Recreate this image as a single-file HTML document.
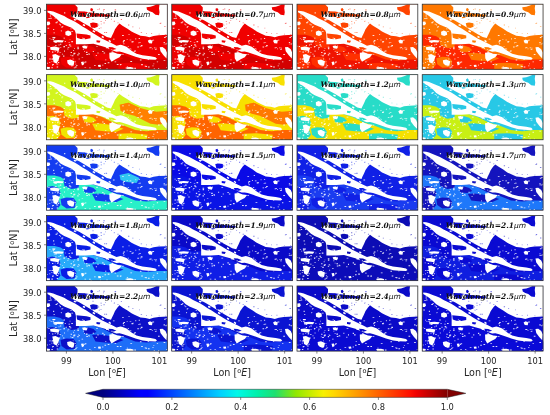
<!DOCTYPE html>
<html><head><meta charset="utf-8"><style>
html,body{margin:0;padding:0;background:#fff;}
svg{display:block;}
.wl{font-family:"DejaVu Serif",serif;font-weight:bold;font-style:italic;font-size:7.5px;fill:#111;}
.mu{font-family:"DejaVu Sans",sans-serif;font-weight:normal;font-style:italic;}
.tk{font-family:"DejaVu Sans",sans-serif;font-size:8.3px;fill:#262626;}
.al{font-family:"DejaVu Sans",sans-serif;font-size:9.6px;fill:#262626;}
.sup{font-size:6.5px;}
</style></head>
<body><svg width="550" height="415" viewBox="0 0 550 415">
<defs><g id="mask"><path fill-rule="evenodd" fill="#fff" d="M28,0 L121,0 L121,30.6 L112,31 L107,31.7 L103,33 L99,32 L94,31.5 L88.5,29 L85,27.3 L81,24.5 L76,21.5 L73,19.3 L71,21.5 L68.5,25 L67,28.5 L65.5,31.5 L64.5,33.8 L60.4,32.8 L55.9,30.2 L51.3,27.6 L47.8,25.8 L46,24.2 L42.2,21.9 L37.7,19.2 L33.1,16.5 L28.6,14.2 L24,11.9 L26,10.5 L30,9.5 L31,6 L31,3 Z M100,3 L104,2.5 L107,1.5 L110,0.3 L113,0.3 L112.5,4 L113,8 L112.5,11 L109,10.5 L106,8 L103,7 L100.5,5.5 Z M39.6,9 L42,8 L43.8,10 L43,13.5 L40,14 L39.4,12 Z M43.8,4.5 L45.5,3.7 L46.7,5.5 L45.5,7.3 L44,6.5 Z M31.5,7 L38,7.3 L44,8.3 L50,9.3 L58,10 L64,10.5 L63,12.5 L55,12.2 L48,12.4 L41,12.7 L36,12.5 L32,11 Z M43.5,19 L47,18.3 L51,19 L51.3,22.5 L48,23.7 L44.5,23 Z"/><path fill-rule="evenodd" fill="#fff" d="M1,6.5 L3.9,6.7 L6.8,7.4 L10.4,8.9 L14,10.3 L17.7,11.8 L21.3,14 L25,15.8 L28.6,17.6 L32.2,19.8 L35.9,22.3 L39.5,24.3 L44.4,27.6 L50,31 L55.3,34.2 L60,36.5 L66.2,39.6 L70,41.5 L74,40.5 L76,41 L80,42.5 L85,46.5 L90,49.5 L96,51 L104,52 L109,53 L110.5,54.5 L109,55.5 L102,55.2 L96,54.6 L89,52.5 L82,50 L76,48 L73,47.3 L69.9,47.5 L64.5,45.5 L58.4,42.8 L53,41.2 L47,39.5 L39,40 L29.4,40 L29.4,30 L28.6,26.5 L25,23.6 L21.3,22 L17.7,20.5 L14,18.3 L10.4,14.7 L6.8,11.8 L3.9,9.8 L1,8 Z M30,29.3 L35,29.8 L40,30.3 L44,31.3 L44,34 L39,35 L34,34.8 L30.5,33.5 Z M50,36 L54,36.5 L53,38.5 L50,38 Z M62,42.8 L66,43 L70,44.8 L66,45.8 L63,45 Z"/><path fill="#fff" d="M18.8,27.5 L21.5,26.3 L24.5,27.5 L24.9,30.5 L22,31.8 L19,30.8 Z M0,17.5 L3,17.3 L3.8,19.5 L2.5,21 L0,21 Z M101.3,36.5 L103.5,35.2 L106,36.5 L105.5,39.2 L102.5,39 Z M113.2,43 L116,42.7 L119,45 L120.5,48.5 L120,54.2 L117,51 L114,47 Z M62.8,48.5 L67,48 L71,49.5 L75.4,50 L73,53 L69,55 L65,57.6 L63,54 Z M5.8,33 L9,32.9 L8.5,34.2 L6,34.1 Z M6.8,36.3 L12,35.8 L17.4,36.3 L16,38.2 L10,38 L7,37.8 Z M3.6,43 L8,42.4 L13.2,43.5 L12,46.7 L7,46 L4,45.5 Z M5.8,50.5 L9,49.9 L13.2,52 L12,56 L10,59.4 L7,58 L6.5,54 Z M20.6,56 L24,55.2 L28,57 L27,61.5 L23,61 L21,59 Z M0,62.6 L3.6,63 L3,65 L0,65 Z M80,63 L84,62.8 L87,63.5 L87,65 L80,65 Z M34.5,57.8 L37,57.4 L37.6,60 L35.5,61.3 Z M51.4,60.8 L54,60.5 L54.5,62.5 L52,62.8 Z M14.3,26 L15.5,26.5 L14.5,27.5 Z M35.6,41.8 L38.5,41.3 L41.1,42.5 L40,44.6 L36.5,44 Z M27.5,14.6 L29.5,15.2 L29.2,16.6 L27.2,16 Z M36.5,19.8 L38.8,20.6 L38.4,22 L36.2,21.2 Z M46.5,25.8 L48.8,27 L48.3,28.4 L46,27.2 Z M55.5,31.5 L57.5,32.6 L57,34 L55,33 Z M62.5,35.6 L64.5,36.8 L64,38.2 L62,37 Z"/><path fill="#fff" opacity="0.85" d="M22.0,37.8h1.5v0.6h-1.5z M36.4,44.7h0.9v0.9h-0.9z M2.5,46.9h0.9v0.7h-0.9z M28.9,59.5h0.9v0.7h-0.9z M42.7,63.3h1.4v0.8h-1.4z M66.4,34.5h1.7v0.8h-1.7z M9.8,36.8h1.1v1.1h-1.1z M12.3,51.6h1.4v0.8h-1.4z M37.2,35.0h0.9v0.7h-0.9z M46.3,46.7h1.1v1.0h-1.1z M30.8,42.6h1.6v1.0h-1.6z M16.6,51.4h1.3v1.1h-1.3z M49.6,42.2h1.8v0.7h-1.8z M28.4,57.2h1.0v0.9h-1.0z M2.7,54.4h1.6v0.9h-1.6z M59.5,43.0h1.5v1.0h-1.5z M39.4,47.6h1.6v1.2h-1.6z M32.2,54.3h0.9v1.0h-0.9z M44.0,64.8h1.6v0.8h-1.6z M26.2,54.4h0.8v0.9h-0.8z M11.4,36.7h0.9v1.1h-0.9z M8.8,40.9h1.2v1.1h-1.2z M5.5,47.4h1.3v1.1h-1.3z M55.7,60.6h1.1v0.8h-1.1z M24.4,61.3h1.8v0.7h-1.8z M12.0,40.4h1.0v0.9h-1.0z M40.1,41.4h0.8v0.9h-0.8z M25.1,51.1h1.8v1.0h-1.8z M35.1,52.8h1.5v0.6h-1.5z M61.2,58.0h1.7v1.1h-1.7z M26.7,45.8h0.9v1.0h-0.9z M4.2,35.2h1.0v0.7h-1.0z M23.1,34.7h0.8v0.7h-0.8z M6.9,44.6h0.8v1.1h-0.8z M41.8,37.8h1.1v0.8h-1.1z M24.8,36.9h1.6v1.2h-1.6z M31.7,48.5h0.9v0.7h-0.9z M23.3,41.5h1.6v0.7h-1.6z M1.6,63.4h1.3v0.7h-1.3z M36.9,33.9h1.3v1.2h-1.3z M58.7,55.3h1.1v0.8h-1.1z M11.4,57.7h1.3v1.1h-1.3z M22.4,40.1h1.6v1.2h-1.6z M58.0,58.8h1.6v1.0h-1.6z M15.4,49.6h1.2v0.6h-1.2z M1.9,41.9h1.1v1.0h-1.1z M65.0,47.3h1.7v1.2h-1.7z M64.9,44.7h1.0v0.7h-1.0z M13.4,39.5h1.4v1.1h-1.4z M57.1,48.3h1.5v1.1h-1.5z M5.8,54.1h1.7v1.1h-1.7z M51.0,48.3h1.0v1.1h-1.0z M22.6,58.6h1.8v0.8h-1.8z M27.3,63.3h1.5v0.7h-1.5z M8.6,37.8h1.7v1.1h-1.7z M9.9,59.4h1.8v1.0h-1.8z M23.8,50.6h0.9v0.6h-0.9z M66.0,53.8h1.3v1.2h-1.3z M29.5,60.9h1.6v0.7h-1.6z M17.1,42.4h1.0v1.0h-1.0z M17.6,46.4h0.9v1.1h-0.9z M24.1,47.7h1.4v1.1h-1.4z M28.6,62.4h1.3v0.9h-1.3z M35.6,33.6h1.2v0.7h-1.2z M0.3,58.6h1.0v0.9h-1.0z M49.3,50.8h1.1v0.9h-1.1z M37.8,58.1h0.9v0.9h-0.9z M16.9,41.9h1.6v0.9h-1.6z M38.2,57.3h1.7v0.9h-1.7z M41.7,49.2h1.3v1.0h-1.3z M30.8,50.1h1.3v1.2h-1.3z M47.5,61.0h1.7v0.8h-1.7z M38.0,63.2h1.6v0.7h-1.6z M8.3,47.1h0.9v0.7h-0.9z M5.0,54.4h1.6v1.1h-1.6z M10.5,55.9h1.5v0.7h-1.5z M60.0,64.0h1.0v1.2h-1.0z M27.1,48.6h1.8v1.1h-1.8z M11.0,46.8h1.3v0.8h-1.3z M13.3,43.2h1.5v0.6h-1.5z M37.7,47.1h0.8v0.8h-0.8z M42.4,49.4h0.9v1.2h-0.9z M53.6,64.1h0.9v0.8h-0.9z M2.7,57.9h1.1v0.7h-1.1z M28.7,62.2h1.6v0.8h-1.6z M10.2,62.4h1.4v1.0h-1.4z M6.1,34.8h1.5v0.9h-1.5z M4.9,63.0h1.4v1.1h-1.4z M5.7,60.4h0.9v1.1h-0.9z M30.9,43.9h1.4v1.2h-1.4z M18.2,37.1h1.3v0.7h-1.3z M7.4,38.2h0.9v0.7h-0.9z M21.2,42.8h1.6v0.8h-1.6z M34.0,38.7h1.1v0.6h-1.1z M17.0,33.5h1.5v0.9h-1.5z M12.9,48.2h1.7v0.7h-1.7z M55.7,46.8h1.3v1.1h-1.3z M26.7,49.2h1.5v1.2h-1.5z M23.3,59.6h1.5v1.0h-1.5z M27.5,44.1h0.9v0.7h-0.9z M4.8,56.7h1.1v0.7h-1.1z M5.7,59.9h1.7v1.0h-1.7z M19.2,40.8h1.1v0.9h-1.1z M10.7,47.3h1.1v1.2h-1.1z M66.1,50.5h1.0v1.2h-1.0z M21.0,44.4h0.8v0.8h-0.8z M32.3,49.1h1.0v0.9h-1.0z M0.3,41.5h0.9v0.8h-0.9z M2.8,33.7h1.1v0.7h-1.1z M39.8,49.9h1.6v1.0h-1.6z M105.9,61.3h1.2v0.8h-1.2z M120.2,38.6h1.5v1.0h-1.5z M70.3,59.9h1.7v1.0h-1.7z M106.9,59.2h0.9v0.9h-0.9z M94.7,59.9h1.6v1.1h-1.6z M99.0,61.7h1.5v1.0h-1.5z M80.2,35.0h0.9v0.8h-0.9z M73.6,59.9h1.4v1.0h-1.4z M101.2,55.1h1.3v0.6h-1.3z M110.3,57.2h1.3v0.9h-1.3z M102.9,36.0h1.5v0.8h-1.5z M71.9,42.2h1.5v0.7h-1.5z M107.2,64.2h1.3v0.8h-1.3z M93.4,55.2h1.6v1.0h-1.6z M102.1,36.4h0.9v0.8h-0.9z M107.4,43.4h1.4v0.6h-1.4z M71.2,42.3h1.5v1.0h-1.5z M103.8,43.0h1.3v0.9h-1.3z M92.7,37.7h1.7v0.7h-1.7z M119.8,63.0h0.8v0.9h-0.8z M111.5,64.0h1.2v0.8h-1.2z M79.1,63.3h1.0v0.9h-1.0z M75.5,50.2h1.8v0.7h-1.8z M111.5,49.8h1.7v1.0h-1.7z M80.3,61.8h1.3v0.6h-1.3z M68.2,49.2h1.3v0.8h-1.3z M75.5,44.7h1.1v1.1h-1.1z M68.1,57.3h1.6v0.7h-1.6z M117.1,56.1h1.7v0.8h-1.7z M87.7,46.2h1.8v1.0h-1.8z M87.1,47.3h1.1v0.6h-1.1z M73.4,59.9h1.1v1.2h-1.1z M81.2,42.2h1.3v0.7h-1.3z M87.8,63.6h1.7v1.1h-1.7z M101.4,62.3h1.7v0.9h-1.7z M106.1,35.5h1.5v0.9h-1.5z M107.9,54.0h1.1v0.6h-1.1z M117.1,37.9h1.3v0.8h-1.3z M83.8,56.9h1.8v0.8h-1.8z M102.8,43.3h1.4v0.8h-1.4z M76.9,39.0h1.0v1.1h-1.0z M94.3,40.8h1.7v1.2h-1.7z M91.8,38.3h1.0v0.7h-1.0z M86.1,36.8h1.0v0.8h-1.0z M98.2,61.5h1.5v0.8h-1.5z M12.4,19.5h1.2v0.8h-1.2z M1.9,14.1h1.8v0.7h-1.8z M15.1,21.9h1.7v0.7h-1.7z M8.1,13.5h1.2v0.9h-1.2z M28.6,26.7h1.7v0.6h-1.7z M1.0,23.6h1.7v0.9h-1.7z M17.6,8.0h1.2v1.2h-1.2z M24.8,26.8h1.8v0.7h-1.8z M3.3,11.4h1.3v1.0h-1.3z M28.2,23.9h1.4v1.1h-1.4z M13.7,20.1h0.8v1.1h-0.8z M7.0,28.2h1.4v0.8h-1.4z M3.8,13.5h1.4v1.0h-1.4z M3.4,9.5h1.3v0.9h-1.3z M11.6,12.9h1.4v0.6h-1.4z M9.0,18.1h1.8v1.0h-1.8z M26.5,18.5h1.0v0.7h-1.0z M28.8,23.5h1.1v0.6h-1.1z M14.9,22.8h1.2v0.8h-1.2z M20.0,28.4h1.0v0.6h-1.0z M10.1,17.3h1.5v0.7h-1.5z M23.9,24.3h1.3v0.7h-1.3z M29.1,14.9h1.6v0.7h-1.6z M6.6,24.7h1.1v1.2h-1.1z M14.9,12.1h1.0v0.9h-1.0z M105.3,44.2h0.9v0.8h-0.9z M84.0,44.6h0.9v0.6h-0.9z M76.8,35.9h1.7v1.1h-1.7z M108.4,45.0h1.7v0.8h-1.7z M82.7,44.0h1.5v0.6h-1.5z M105.2,35.7h1.2v0.8h-1.2z M82.0,30.0h1.1v0.8h-1.1z M118.9,31.9h1.8v0.7h-1.8z M90.8,42.3h1.6v0.9h-1.6z M76.3,37.1h1.2v1.2h-1.2z M83.1,35.5h1.7v0.6h-1.7z M93.3,42.2h1.6v0.6h-1.6z M75.6,30.9h1.7v0.8h-1.7z M109.1,43.5h1.1v0.8h-1.1z M119.0,39.3h1.1v1.0h-1.1z M88.9,34.1h0.8v1.1h-0.8z M117.1,39.5h1.7v0.6h-1.7z M85.0,37.1h1.8v1.2h-1.8z M92.2,33.8h1.2v0.9h-1.2z M117.6,32.7h1.6v1.0h-1.6z"/><path fill="currentColor" opacity="0.55" d="M70.3,26.9h1.2v0.8h-1.2z M54.2,19.5h1.3v0.6h-1.3z M50.3,26.6h0.9v0.6h-0.9z M45.1,22.9h1.0v1.1h-1.0z M72.3,30.8h0.9v0.6h-0.9z M47.1,22.0h1.3v0.8h-1.3z M51.5,20.5h1.2v0.9h-1.2z M67.9,28.2h1.2v0.7h-1.2z M70.9,18.3h1.2v0.8h-1.2z M67.6,16.6h0.9v0.7h-0.9z M48.9,28.9h1.2v0.8h-1.2z M56.7,30.9h1.1v0.7h-1.1z M69.9,24.8h1.5v0.7h-1.5z M59.2,27.7h1.4v1.1h-1.4z M45.3,18.3h0.8v0.7h-0.8z M75.1,23.5h1.4v0.8h-1.4z M71.7,21.1h0.9v1.0h-0.9z M74.3,14.9h1.2v0.9h-1.2z M51.0,19.6h0.8v0.7h-0.8z M52.2,23.8h1.2v0.7h-1.2z M44.4,18.9h1.2v0.7h-1.2z M54.0,16.7h1.3v0.9h-1.3z M46.0,14.8h1.0v0.9h-1.0z M64.5,14.6h0.8v0.9h-0.8z M57.1,18.1h0.9v1.1h-0.9z M54.0,23.2h1.0v0.8h-1.0z M71.7,30.9h1.0v0.7h-1.0z M67.3,16.7h0.7v1.1h-0.7z M57.6,27.8h1.0v1.0h-1.0z M58.7,15.9h0.7v0.9h-0.7z M104.8,28.8h0.8v0.9h-0.8z M92.7,23.6h0.8v0.7h-0.8z M99.5,29.0h0.8v0.8h-0.8z M112.2,29.6h0.9v0.7h-0.9z M118.4,29.7h1.1v0.6h-1.1z M117.7,22.0h1.4v0.9h-1.4z M113.1,19.1h1.3v0.7h-1.3z M94.2,28.0h1.4v0.7h-1.4z M85.8,22.2h1.1v0.8h-1.1z M81.5,20.2h1.3v1.0h-1.3z M77.8,24.3h1.3v0.6h-1.3z M113.7,18.5h1.2v0.9h-1.2z M56.6,6.4h1.0v0.9h-1.0z M49.3,9.3h1.1v0.8h-1.1z M34.8,9.0h1.1v0.7h-1.1z M61.5,10.2h1.1v0.7h-1.1z M51.0,4.9h0.8v0.8h-0.8z M37.3,7.5h1.1v0.6h-1.1z M56.9,4.7h1.3v1.0h-1.3z M52.4,4.4h1.1v0.8h-1.1z M68.2,5.1h1.4v1.1h-1.4z M60.4,10.5h0.9v1.1h-0.9z"/></g><linearGradient id="jet" x1="0" x2="1" y1="0" y2="0"><stop offset="0" stop-color="#000080"/><stop offset="0.11" stop-color="#0000ff"/><stop offset="0.13" stop-color="#0000ff"/><stop offset="0.34" stop-color="#00d0ff"/><stop offset="0.39" stop-color="#00f8e8"/><stop offset="0.45" stop-color="#00f0a8"/><stop offset="0.5" stop-color="#1ee070"/><stop offset="0.56" stop-color="#90e800"/><stop offset="0.64" stop-color="#f8f000"/><stop offset="0.67" stop-color="#ffd800"/><stop offset="0.75" stop-color="#ff9000"/><stop offset="0.89" stop-color="#ff1000"/><stop offset="0.91" stop-color="#f00000"/><stop offset="1" stop-color="#800000"/></linearGradient></defs><g transform="translate(46.5,4.2)"><rect x="0" y="0" width="120.8" height="65.1" fill="#f00000"/><polygon points="0,30.5 8,30.5 14,32 20,36 33,35.5 44,38.8 55,42 66,47.7 77.6,51 88.7,55.4 100,56.5 111,55.4 121,55.4 121,65 0,65" fill="#d00000"/><polygon points="0,42 6,41 12,43 14,48 12,55 14,60 10,65 0,65" fill="#f00000"/><polygon points="14,54 20,52.5 27,53 30,57 28,63 20,63.5 15,60" fill="#f00000"/><polygon points="37,42 42,41.5 47,43 50,46 45,48 38,47.5" fill="#f00000"/><polygon points="45.6,49 52,48.5 60,49.5 68,51 77,54 70,57 58,56.5 49,55.5" fill="#f00000"/><polygon points="72,59 85,58.6 101,60 100,65 72,65" fill="#f00000"/><polygon points="17,35 24,34 33,37 32,43 25,44 18,41" fill="#f00000"/><use href="#mask" style="color:#f00000"/><rect x="0" y="0" width="120.8" height="65.1" fill="none" stroke="#333" stroke-width="0.8"/><text x="23.4" y="12.5" class="wl">Wavelength=0.6<tspan class="mu">μm</tspan></text><line x1="-2.5" x2="0" y1="6.2" y2="6.2" stroke="#333" stroke-width="0.6"/><line x1="-2.5" x2="0" y1="29.2" y2="29.2" stroke="#333" stroke-width="0.6"/><line x1="-2.5" x2="0" y1="52.2" y2="52.2" stroke="#333" stroke-width="0.6"/></g><g transform="translate(171.75,4.2)"><rect x="0" y="0" width="120.8" height="65.1" fill="#f00000"/><polygon points="0,30.5 8,30.5 14,32 20,36 33,35.5 44,38.8 55,42 66,47.7 77.6,51 88.7,55.4 100,56.5 111,55.4 121,55.4 121,65 0,65" fill="#d40000"/><polygon points="0,42 6,41 12,43 14,48 12,55 14,60 10,65 0,65" fill="#f00000"/><polygon points="14,54 20,52.5 27,53 30,57 28,63 20,63.5 15,60" fill="#f00000"/><polygon points="37,42 42,41.5 47,43 50,46 45,48 38,47.5" fill="#f00000"/><polygon points="45.6,49 52,48.5 60,49.5 68,51 77,54 70,57 58,56.5 49,55.5" fill="#f00000"/><polygon points="72,59 85,58.6 101,60 100,65 72,65" fill="#f00000"/><polygon points="17,35 24,34 33,37 32,43 25,44 18,41" fill="#f00000"/><use href="#mask" style="color:#f00000"/><rect x="0" y="0" width="120.8" height="65.1" fill="none" stroke="#333" stroke-width="0.8"/><text x="23.4" y="12.5" class="wl">Wavelength=0.7<tspan class="mu">μm</tspan></text></g><g transform="translate(297.0,4.2)"><rect x="0" y="0" width="120.8" height="65.1" fill="#ff4400"/><polygon points="0,30.5 8,30.5 14,32 20,36 33,35.5 44,38.8 55,42 66,47.7 77.6,51 88.7,55.4 100,56.5 111,55.4 121,55.4 121,65 0,65" fill="#f01400"/><polygon points="0,42 6,41 12,43 14,48 12,55 14,60 10,65 0,65" fill="#ff3000"/><polygon points="14,54 20,52.5 27,53 30,57 28,63 20,63.5 15,60" fill="#ff3000"/><polygon points="37,42 42,41.5 47,43 50,46 45,48 38,47.5" fill="#ff3000"/><polygon points="45.6,49 52,48.5 60,49.5 68,51 77,54 70,57 58,56.5 49,55.5" fill="#ff3000"/><polygon points="72,59 85,58.6 101,60 100,65 72,65" fill="#ff3000"/><polygon points="17,35 24,34 33,37 32,43 25,44 18,41" fill="#ff3000"/><use href="#mask" style="color:#ff4400"/><rect x="0" y="0" width="120.8" height="65.1" fill="none" stroke="#333" stroke-width="0.8"/><text x="23.4" y="12.5" class="wl">Wavelength=0.8<tspan class="mu">μm</tspan></text></g><g transform="translate(422.25,4.2)"><rect x="0" y="0" width="120.8" height="65.1" fill="#ff7800"/><polygon points="0,30.5 8,30.5 14,32 20,36 33,35.5 44,38.8 55,42 66,47.7 77.6,51 88.7,55.4 100,56.5 111,55.4 121,55.4 121,65 0,65" fill="#ff2800"/><polygon points="0,42 6,41 12,43 14,48 12,55 14,60 10,65 0,65" fill="#ff7800"/><polygon points="14,54 20,52.5 27,53 30,57 28,63 20,63.5 15,60" fill="#ff7800"/><polygon points="37,42 42,41.5 47,43 50,46 45,48 38,47.5" fill="#ff7800"/><polygon points="45.6,49 52,48.5 60,49.5 68,51 77,54 70,57 58,56.5 49,55.5" fill="#ff7800"/><polygon points="72,59 85,58.6 101,60 100,65 72,65" fill="#ff7800"/><polygon points="17,35 24,34 33,37 32,43 25,44 18,41" fill="#ff7800"/><use href="#mask" style="color:#ff7800"/><rect x="0" y="0" width="120.8" height="65.1" fill="none" stroke="#333" stroke-width="0.8"/><text x="23.4" y="12.5" class="wl">Wavelength=0.9<tspan class="mu">μm</tspan></text></g><g transform="translate(46.5,74.65)"><rect x="0" y="0" width="120.8" height="65.1" fill="#d2f51e"/><polygon points="0,30.5 8,30.5 14,32 20,36 33,35.5 44,38.8 55,42 66,47.7 77.6,51 88.7,55.4 100,56.5 111,55.4 121,55.4 121,65 0,65" fill="#ff6e00"/><polygon points="0,42 6,41 12,43 14,48 12,55 14,60 10,65 0,65" fill="#f0e600"/><polygon points="14,54 20,52.5 27,53 30,57 28,63 20,63.5 15,60" fill="#f0e600"/><polygon points="37,42 42,41.5 47,43 50,46 45,48 38,47.5" fill="#f0e600"/><polygon points="45.6,49 52,48.5 60,49.5 68,51 77,54 70,57 58,56.5 49,55.5" fill="#f0e600"/><polygon points="72,59 85,58.6 101,60 100,65 72,65" fill="#f0e600"/><polygon points="17,35 24,34 33,37 32,43 25,44 18,41" fill="#f0e600"/><polygon points="73,30 82,28 93,33 90,38 80,37 74,35" fill="#ff8c00"/><polygon points="74,30 82,28 93,33 100,35 110,37 121,36 121,48 112,50 104,49 96,45 88,41 80,39 74,36" fill="#ff8000"/><use href="#mask" style="color:#d2f51e"/><rect x="0" y="0" width="120.8" height="65.1" fill="none" stroke="#333" stroke-width="0.8"/><text x="23.4" y="12.5" class="wl">Wavelength=1.0<tspan class="mu">μm</tspan></text><line x1="-2.5" x2="0" y1="6.2" y2="6.2" stroke="#333" stroke-width="0.6"/><line x1="-2.5" x2="0" y1="29.2" y2="29.2" stroke="#333" stroke-width="0.6"/><line x1="-2.5" x2="0" y1="52.2" y2="52.2" stroke="#333" stroke-width="0.6"/></g><g transform="translate(171.75,74.65)"><rect x="0" y="0" width="120.8" height="65.1" fill="#f8e000"/><polygon points="0,30.5 8,30.5 14,32 20,36 33,35.5 44,38.8 55,42 66,47.7 77.6,51 88.7,55.4 100,56.5 111,55.4 121,55.4 121,65 0,65" fill="#ff6400"/><polygon points="0,42 6,41 12,43 14,48 12,55 14,60 10,65 0,65" fill="#f8e000"/><polygon points="14,54 20,52.5 27,53 30,57 28,63 20,63.5 15,60" fill="#f8e000"/><polygon points="37,42 42,41.5 47,43 50,46 45,48 38,47.5" fill="#f8e000"/><polygon points="45.6,49 52,48.5 60,49.5 68,51 77,54 70,57 58,56.5 49,55.5" fill="#f8e000"/><polygon points="72,59 85,58.6 101,60 100,65 72,65" fill="#f8e000"/><polygon points="17,35 24,34 33,37 32,43 25,44 18,41" fill="#f8e000"/><polygon points="73,30 82,28 93,33 90,38 80,37 74,35" fill="#ff8c00"/><polygon points="74,30 82,28 93,33 100,35 110,37 121,36 121,48 112,50 104,49 96,45 88,41 80,39 74,36" fill="#ff7800"/><use href="#mask" style="color:#f8e000"/><rect x="0" y="0" width="120.8" height="65.1" fill="none" stroke="#333" stroke-width="0.8"/><text x="23.4" y="12.5" class="wl">Wavelength=1.1<tspan class="mu">μm</tspan></text></g><g transform="translate(297.0,74.65)"><rect x="0" y="0" width="120.8" height="65.1" fill="#28dcc8"/><polygon points="0,30.5 8,30.5 14,32 20,36 33,35.5 44,38.8 55,42 66,47.7 77.6,51 88.7,55.4 100,56.5 111,55.4 121,55.4 121,65 0,65" fill="#f5e100"/><polygon points="0,42 6,41 12,43 14,48 12,55 14,60 10,65 0,65" fill="#28dcc8"/><polygon points="14,54 20,52.5 27,53 30,57 28,63 20,63.5 15,60" fill="#28dcc8"/><polygon points="37,42 42,41.5 47,43 50,46 45,48 38,47.5" fill="#28dcc8"/><polygon points="45.6,49 52,48.5 60,49.5 68,51 77,54 70,57 58,56.5 49,55.5" fill="#28dcc8"/><polygon points="72,59 85,58.6 101,60 100,65 72,65" fill="#28dcc8"/><polygon points="17,35 24,34 33,37 32,43 25,44 18,41" fill="#28dcc8"/><use href="#mask" style="color:#28dcc8"/><rect x="0" y="0" width="120.8" height="65.1" fill="none" stroke="#333" stroke-width="0.8"/><text x="23.4" y="12.5" class="wl">Wavelength=1.2<tspan class="mu">μm</tspan></text></g><g transform="translate(422.25,74.65)"><rect x="0" y="0" width="120.8" height="65.1" fill="#28c8e6"/><polygon points="0,30.5 8,30.5 14,32 20,36 33,35.5 44,38.8 55,42 66,47.7 77.6,51 88.7,55.4 100,56.5 111,55.4 121,55.4 121,65 0,65" fill="#c8f014"/><polygon points="0,42 6,41 12,43 14,48 12,55 14,60 10,65 0,65" fill="#28c8e6"/><polygon points="14,54 20,52.5 27,53 30,57 28,63 20,63.5 15,60" fill="#28c8e6"/><polygon points="37,42 42,41.5 47,43 50,46 45,48 38,47.5" fill="#28c8e6"/><polygon points="45.6,49 52,48.5 60,49.5 68,51 77,54 70,57 58,56.5 49,55.5" fill="#28c8e6"/><polygon points="72,59 85,58.6 101,60 100,65 72,65" fill="#28c8e6"/><polygon points="17,35 24,34 33,37 32,43 25,44 18,41" fill="#28c8e6"/><use href="#mask" style="color:#28c8e6"/><rect x="0" y="0" width="120.8" height="65.1" fill="none" stroke="#333" stroke-width="0.8"/><text x="23.4" y="12.5" class="wl">Wavelength=1.3<tspan class="mu">μm</tspan></text></g><g transform="translate(46.5,145.1)"><rect x="0" y="0" width="120.8" height="65.1" fill="#143cf0"/><polygon points="0,30.5 8,30.5 14,32 20,36 33,35.5 44,38.8 55,42 66,47.7 77.6,51 88.7,55.4 100,56.5 111,55.4 121,55.4 121,65 0,65" fill="#28f0c8"/><polygon points="0,42 6,41 12,43 14,48 12,55 14,60 10,65 0,65" fill="#143cf0"/><polygon points="14,54 20,52.5 27,53 30,57 28,63 20,63.5 15,60" fill="#143cf0"/><polygon points="37,42 42,41.5 47,43 50,46 45,48 38,47.5" fill="#143cf0"/><polygon points="45.6,49 52,48.5 60,49.5 68,51 77,54 70,57 58,56.5 49,55.5" fill="#143cf0"/><polygon points="17,35 24,34 33,37 32,43 25,44 18,41" fill="#143cf0"/><polygon points="73,30 82,28 93,33 90,38 80,37 74,35" fill="#30c8f0"/><use href="#mask" style="color:#143cf0"/><rect x="0" y="0" width="120.8" height="65.1" fill="none" stroke="#333" stroke-width="0.8"/><text x="23.4" y="12.5" class="wl">Wavelength=1.4<tspan class="mu">μm</tspan></text><line x1="-2.5" x2="0" y1="6.2" y2="6.2" stroke="#333" stroke-width="0.6"/><line x1="-2.5" x2="0" y1="29.2" y2="29.2" stroke="#333" stroke-width="0.6"/><line x1="-2.5" x2="0" y1="52.2" y2="52.2" stroke="#333" stroke-width="0.6"/></g><g transform="translate(171.75,145.1)"><rect x="0" y="0" width="120.8" height="65.1" fill="#0a0ae6"/><polygon points="0,30.5 8,30.5 14,32 20,36 33,35.5 44,38.8 55,42 66,47.7 77.6,51 88.7,55.4 100,56.5 111,55.4 121,55.4 121,65 0,65" fill="#0a14e6"/><use href="#mask" style="color:#0a0ae6"/><rect x="0" y="0" width="120.8" height="65.1" fill="none" stroke="#333" stroke-width="0.8"/><text x="23.4" y="12.5" class="wl">Wavelength=1.5<tspan class="mu">μm</tspan></text></g><g transform="translate(297.0,145.1)"><rect x="0" y="0" width="120.8" height="65.1" fill="#1020e6"/><polygon points="0,30.5 8,30.5 14,32 20,36 33,35.5 44,38.8 55,42 66,47.7 77.6,51 88.7,55.4 100,56.5 111,55.4 121,55.4 121,65 0,65" fill="#1a3cf0"/><polygon points="0,42 6,41 12,43 14,48 12,55 14,60 10,65 0,65" fill="#1020e6"/><polygon points="14,54 20,52.5 27,53 30,57 28,63 20,63.5 15,60" fill="#1020e6"/><polygon points="37,42 42,41.5 47,43 50,46 45,48 38,47.5" fill="#1020e6"/><polygon points="45.6,49 52,48.5 60,49.5 68,51 77,54 70,57 58,56.5 49,55.5" fill="#1020e6"/><polygon points="72,59 85,58.6 101,60 100,65 72,65" fill="#1020e6"/><polygon points="17,35 24,34 33,37 32,43 25,44 18,41" fill="#1020e6"/><use href="#mask" style="color:#1020e6"/><rect x="0" y="0" width="120.8" height="65.1" fill="none" stroke="#333" stroke-width="0.8"/><text x="23.4" y="12.5" class="wl">Wavelength=1.6<tspan class="mu">μm</tspan></text></g><g transform="translate(422.25,145.1)"><rect x="0" y="0" width="120.8" height="65.1" fill="#1414be"/><polygon points="0,30.5 8,30.5 14,32 20,36 33,35.5 44,38.8 55,42 66,47.7 77.6,51 88.7,55.4 100,56.5 111,55.4 121,55.4 121,65 0,65" fill="#1e78fa"/><polygon points="0,42 6,41 12,43 14,48 12,55 14,60 10,65 0,65" fill="#1414be"/><polygon points="14,54 20,52.5 27,53 30,57 28,63 20,63.5 15,60" fill="#1414be"/><polygon points="37,42 42,41.5 47,43 50,46 45,48 38,47.5" fill="#1414be"/><polygon points="45.6,49 52,48.5 60,49.5 68,51 77,54 70,57 58,56.5 49,55.5" fill="#1414be"/><polygon points="17,35 24,34 33,37 32,43 25,44 18,41" fill="#1414be"/><use href="#mask" style="color:#1414be"/><rect x="0" y="0" width="120.8" height="65.1" fill="none" stroke="#333" stroke-width="0.8"/><text x="23.4" y="12.5" class="wl">Wavelength=1.7<tspan class="mu">μm</tspan></text></g><g transform="translate(46.5,215.55)"><rect x="0" y="0" width="120.8" height="65.1" fill="#0a1ee6"/><polygon points="0,30.5 8,30.5 14,32 20,36 33,35.5 44,38.8 55,42 66,47.7 77.6,51 88.7,55.4 100,56.5 111,55.4 121,55.4 121,65 0,65" fill="#28aafa"/><polygon points="0,42 6,41 12,43 14,48 12,55 14,60 10,65 0,65" fill="#0a1ee6"/><polygon points="14,54 20,52.5 27,53 30,57 28,63 20,63.5 15,60" fill="#0a1ee6"/><polygon points="37,42 42,41.5 47,43 50,46 45,48 38,47.5" fill="#0a1ee6"/><polygon points="45.6,49 52,48.5 60,49.5 68,51 77,54 70,57 58,56.5 49,55.5" fill="#0a1ee6"/><polygon points="17,35 24,34 33,37 32,43 25,44 18,41" fill="#0a1ee6"/><use href="#mask" style="color:#0a1ee6"/><rect x="0" y="0" width="120.8" height="65.1" fill="none" stroke="#333" stroke-width="0.8"/><text x="23.4" y="12.5" class="wl">Wavelength=1.8<tspan class="mu">μm</tspan></text><line x1="-2.5" x2="0" y1="6.2" y2="6.2" stroke="#333" stroke-width="0.6"/><line x1="-2.5" x2="0" y1="29.2" y2="29.2" stroke="#333" stroke-width="0.6"/><line x1="-2.5" x2="0" y1="52.2" y2="52.2" stroke="#333" stroke-width="0.6"/></g><g transform="translate(171.75,215.55)"><rect x="0" y="0" width="120.8" height="65.1" fill="#0a0ac8"/><polygon points="0,30.5 8,30.5 14,32 20,36 33,35.5 44,38.8 55,42 66,47.7 77.6,51 88.7,55.4 100,56.5 111,55.4 121,55.4 121,65 0,65" fill="#0f1ee6"/><use href="#mask" style="color:#0a0ac8"/><rect x="0" y="0" width="120.8" height="65.1" fill="none" stroke="#333" stroke-width="0.8"/><text x="23.4" y="12.5" class="wl">Wavelength=1.9<tspan class="mu">μm</tspan></text></g><g transform="translate(297.0,215.55)"><rect x="0" y="0" width="120.8" height="65.1" fill="#0c0cb4"/><polygon points="0,30.5 8,30.5 14,32 20,36 33,35.5 44,38.8 55,42 66,47.7 77.6,51 88.7,55.4 100,56.5 111,55.4 121,55.4 121,65 0,65" fill="#0c0cb9"/><use href="#mask" style="color:#0c0cb4"/><rect x="0" y="0" width="120.8" height="65.1" fill="none" stroke="#333" stroke-width="0.8"/><text x="23.4" y="12.5" class="wl">Wavelength=2.0<tspan class="mu">μm</tspan></text></g><g transform="translate(422.25,215.55)"><rect x="0" y="0" width="120.8" height="65.1" fill="#0a0ad2"/><polygon points="0,30.5 8,30.5 14,32 20,36 33,35.5 44,38.8 55,42 66,47.7 77.6,51 88.7,55.4 100,56.5 111,55.4 121,55.4 121,65 0,65" fill="#0f1ee0"/><polygon points="0,42 6,41 12,43 14,48 12,55 14,60 10,65 0,65" fill="#0a0ad2"/><polygon points="14,54 20,52.5 27,53 30,57 28,63 20,63.5 15,60" fill="#0a0ad2"/><polygon points="37,42 42,41.5 47,43 50,46 45,48 38,47.5" fill="#0a0ad2"/><polygon points="45.6,49 52,48.5 60,49.5 68,51 77,54 70,57 58,56.5 49,55.5" fill="#0a0ad2"/><polygon points="72,59 85,58.6 101,60 100,65 72,65" fill="#0a0ad2"/><polygon points="17,35 24,34 33,37 32,43 25,44 18,41" fill="#0a0ad2"/><use href="#mask" style="color:#0a0ad2"/><rect x="0" y="0" width="120.8" height="65.1" fill="none" stroke="#333" stroke-width="0.8"/><text x="23.4" y="12.5" class="wl">Wavelength=2.1<tspan class="mu">μm</tspan></text></g><g transform="translate(46.5,286.0)"><rect x="0" y="0" width="120.8" height="65.1" fill="#0c10c8"/><polygon points="0,30.5 8,30.5 14,32 20,36 33,35.5 44,38.8 55,42 66,47.7 77.6,51 88.7,55.4 100,56.5 111,55.4 121,55.4 121,65 0,65" fill="#1e6ef8"/><polygon points="0,42 6,41 12,43 14,48 12,55 14,60 10,65 0,65" fill="#0c10c8"/><polygon points="14,54 20,52.5 27,53 30,57 28,63 20,63.5 15,60" fill="#0c10c8"/><polygon points="37,42 42,41.5 47,43 50,46 45,48 38,47.5" fill="#0c10c8"/><polygon points="45.6,49 52,48.5 60,49.5 68,51 77,54 70,57 58,56.5 49,55.5" fill="#0c10c8"/><polygon points="17,35 24,34 33,37 32,43 25,44 18,41" fill="#0c10c8"/><use href="#mask" style="color:#0c10c8"/><rect x="0" y="0" width="120.8" height="65.1" fill="none" stroke="#333" stroke-width="0.8"/><text x="23.4" y="12.5" class="wl">Wavelength=2.2<tspan class="mu">μm</tspan></text><line x1="-2.5" x2="0" y1="6.2" y2="6.2" stroke="#333" stroke-width="0.6"/><line x1="-2.5" x2="0" y1="29.2" y2="29.2" stroke="#333" stroke-width="0.6"/><line x1="-2.5" x2="0" y1="52.2" y2="52.2" stroke="#333" stroke-width="0.6"/><line x1="19.9" x2="19.9" y1="65.1" y2="67.6" stroke="#333" stroke-width="0.6"/><line x1="66.4" x2="66.4" y1="65.1" y2="67.6" stroke="#333" stroke-width="0.6"/><line x1="112.9" x2="112.9" y1="65.1" y2="67.6" stroke="#333" stroke-width="0.6"/></g><g transform="translate(171.75,286.0)"><rect x="0" y="0" width="120.8" height="65.1" fill="#0a14d2"/><polygon points="0,30.5 8,30.5 14,32 20,36 33,35.5 44,38.8 55,42 66,47.7 77.6,51 88.7,55.4 100,56.5 111,55.4 121,55.4 121,65 0,65" fill="#1432f0"/><polygon points="0,42 6,41 12,43 14,48 12,55 14,60 10,65 0,65" fill="#0a14d2"/><polygon points="14,54 20,52.5 27,53 30,57 28,63 20,63.5 15,60" fill="#0a14d2"/><polygon points="37,42 42,41.5 47,43 50,46 45,48 38,47.5" fill="#0a14d2"/><polygon points="45.6,49 52,48.5 60,49.5 68,51 77,54 70,57 58,56.5 49,55.5" fill="#0a14d2"/><polygon points="72,59 85,58.6 101,60 100,65 72,65" fill="#0a14d2"/><polygon points="17,35 24,34 33,37 32,43 25,44 18,41" fill="#0a14d2"/><use href="#mask" style="color:#0a14d2"/><rect x="0" y="0" width="120.8" height="65.1" fill="none" stroke="#333" stroke-width="0.8"/><text x="23.4" y="12.5" class="wl">Wavelength=2.3<tspan class="mu">μm</tspan></text><line x1="19.9" x2="19.9" y1="65.1" y2="67.6" stroke="#333" stroke-width="0.6"/><line x1="66.4" x2="66.4" y1="65.1" y2="67.6" stroke="#333" stroke-width="0.6"/><line x1="112.9" x2="112.9" y1="65.1" y2="67.6" stroke="#333" stroke-width="0.6"/></g><g transform="translate(297.0,286.0)"><rect x="0" y="0" width="120.8" height="65.1" fill="#0a0ac8"/><polygon points="0,30.5 8,30.5 14,32 20,36 33,35.5 44,38.8 55,42 66,47.7 77.6,51 88.7,55.4 100,56.5 111,55.4 121,55.4 121,65 0,65" fill="#0a0ad2"/><use href="#mask" style="color:#0a0ac8"/><rect x="0" y="0" width="120.8" height="65.1" fill="none" stroke="#333" stroke-width="0.8"/><text x="23.4" y="12.5" class="wl">Wavelength=2.4<tspan class="mu">μm</tspan></text><line x1="19.9" x2="19.9" y1="65.1" y2="67.6" stroke="#333" stroke-width="0.6"/><line x1="66.4" x2="66.4" y1="65.1" y2="67.6" stroke="#333" stroke-width="0.6"/><line x1="112.9" x2="112.9" y1="65.1" y2="67.6" stroke="#333" stroke-width="0.6"/></g><g transform="translate(422.25,286.0)"><rect x="0" y="0" width="120.8" height="65.1" fill="#0a0ad2"/><polygon points="0,30.5 8,30.5 14,32 20,36 33,35.5 44,38.8 55,42 66,47.7 77.6,51 88.7,55.4 100,56.5 111,55.4 121,55.4 121,65 0,65" fill="#0a0ad8"/><use href="#mask" style="color:#0a0ad2"/><rect x="0" y="0" width="120.8" height="65.1" fill="none" stroke="#333" stroke-width="0.8"/><text x="23.4" y="12.5" class="wl">Wavelength=2.5<tspan class="mu">μm</tspan></text><line x1="19.9" x2="19.9" y1="65.1" y2="67.6" stroke="#333" stroke-width="0.6"/><line x1="66.4" x2="66.4" y1="65.1" y2="67.6" stroke="#333" stroke-width="0.6"/><line x1="112.9" x2="112.9" y1="65.1" y2="67.6" stroke="#333" stroke-width="0.6"/></g><text x="41.5" y="14.4" class="tk" text-anchor="end">39.0</text><text x="41.5" y="37.4" class="tk" text-anchor="end">38.5</text><text x="41.5" y="60.4" class="tk" text-anchor="end">38.0</text><text class="al" text-anchor="middle" transform="translate(16.6,36.8) rotate(-90)">Lat [<tspan class="sup" dy="-3">o</tspan><tspan dy="3">N]</tspan></text><text x="41.5" y="84.9" class="tk" text-anchor="end">39.0</text><text x="41.5" y="107.9" class="tk" text-anchor="end">38.5</text><text x="41.5" y="130.9" class="tk" text-anchor="end">38.0</text><text class="al" text-anchor="middle" transform="translate(16.6,107.2) rotate(-90)">Lat [<tspan class="sup" dy="-3">o</tspan><tspan dy="3">N]</tspan></text><text x="41.5" y="155.3" class="tk" text-anchor="end">39.0</text><text x="41.5" y="178.3" class="tk" text-anchor="end">38.5</text><text x="41.5" y="201.3" class="tk" text-anchor="end">38.0</text><text class="al" text-anchor="middle" transform="translate(16.6,177.6) rotate(-90)">Lat [<tspan class="sup" dy="-3">o</tspan><tspan dy="3">N]</tspan></text><text x="41.5" y="225.8" class="tk" text-anchor="end">39.0</text><text x="41.5" y="248.8" class="tk" text-anchor="end">38.5</text><text x="41.5" y="271.8" class="tk" text-anchor="end">38.0</text><text class="al" text-anchor="middle" transform="translate(16.6,248.1) rotate(-90)">Lat [<tspan class="sup" dy="-3">o</tspan><tspan dy="3">N]</tspan></text><text x="41.5" y="296.2" class="tk" text-anchor="end">39.0</text><text x="41.5" y="319.2" class="tk" text-anchor="end">38.5</text><text x="41.5" y="342.2" class="tk" text-anchor="end">38.0</text><text class="al" text-anchor="middle" transform="translate(16.6,318.6) rotate(-90)">Lat [<tspan class="sup" dy="-3">o</tspan><tspan dy="3">N]</tspan></text><text x="66.4" y="363.5" class="tk" text-anchor="middle">99</text><text x="112.9" y="363.5" class="tk" text-anchor="middle">100</text><text x="159.4" y="363.5" class="tk" text-anchor="middle">101</text><text x="107.0" y="376" class="al" text-anchor="middle">Lon [<tspan class="sup" dy="-3">o</tspan><tspan dy="3" font-style="italic">E</tspan>]</text><text x="191.7" y="363.5" class="tk" text-anchor="middle">99</text><text x="238.2" y="363.5" class="tk" text-anchor="middle">100</text><text x="284.6" y="363.5" class="tk" text-anchor="middle">101</text><text x="232.2" y="376" class="al" text-anchor="middle">Lon [<tspan class="sup" dy="-3">o</tspan><tspan dy="3" font-style="italic">E</tspan>]</text><text x="316.9" y="363.5" class="tk" text-anchor="middle">99</text><text x="363.4" y="363.5" class="tk" text-anchor="middle">100</text><text x="409.9" y="363.5" class="tk" text-anchor="middle">101</text><text x="357.5" y="376" class="al" text-anchor="middle">Lon [<tspan class="sup" dy="-3">o</tspan><tspan dy="3" font-style="italic">E</tspan>]</text><text x="442.1" y="363.5" class="tk" text-anchor="middle">99</text><text x="488.6" y="363.5" class="tk" text-anchor="middle">100</text><text x="535.1" y="363.5" class="tk" text-anchor="middle">101</text><text x="482.8" y="376" class="al" text-anchor="middle">Lon [<tspan class="sup" dy="-3">o</tspan><tspan dy="3" font-style="italic">E</tspan>]</text><rect x="103" y="389.3" width="344.3" height="8.099999999999966" fill="url(#jet)"/><polygon points="103,389.3 103,397.4 85.6,393.35" fill="#000080"/><polygon points="447.3,389.3 447.3,397.4 465.8,393.35" fill="#800000"/><polygon points="103,389.3 447.3,389.3 465.8,393.35 447.3,397.4 103,397.4 85.6,393.35" fill="none" stroke="#222" stroke-width="0.5"/><line x1="103.0" x2="103.0" y1="397.4" y2="399.9" stroke="#333" stroke-width="0.6"/><text x="103.0" y="410" class="tk" text-anchor="middle">0.0</text><line x1="171.9" x2="171.9" y1="397.4" y2="399.9" stroke="#333" stroke-width="0.6"/><text x="171.9" y="410" class="tk" text-anchor="middle">0.2</text><line x1="240.7" x2="240.7" y1="397.4" y2="399.9" stroke="#333" stroke-width="0.6"/><text x="240.7" y="410" class="tk" text-anchor="middle">0.4</text><line x1="309.6" x2="309.6" y1="397.4" y2="399.9" stroke="#333" stroke-width="0.6"/><text x="309.6" y="410" class="tk" text-anchor="middle">0.6</text><line x1="378.4" x2="378.4" y1="397.4" y2="399.9" stroke="#333" stroke-width="0.6"/><text x="378.4" y="410" class="tk" text-anchor="middle">0.8</text><line x1="447.3" x2="447.3" y1="397.4" y2="399.9" stroke="#333" stroke-width="0.6"/><text x="447.3" y="410" class="tk" text-anchor="middle">1.0</text>
</svg></body></html>
